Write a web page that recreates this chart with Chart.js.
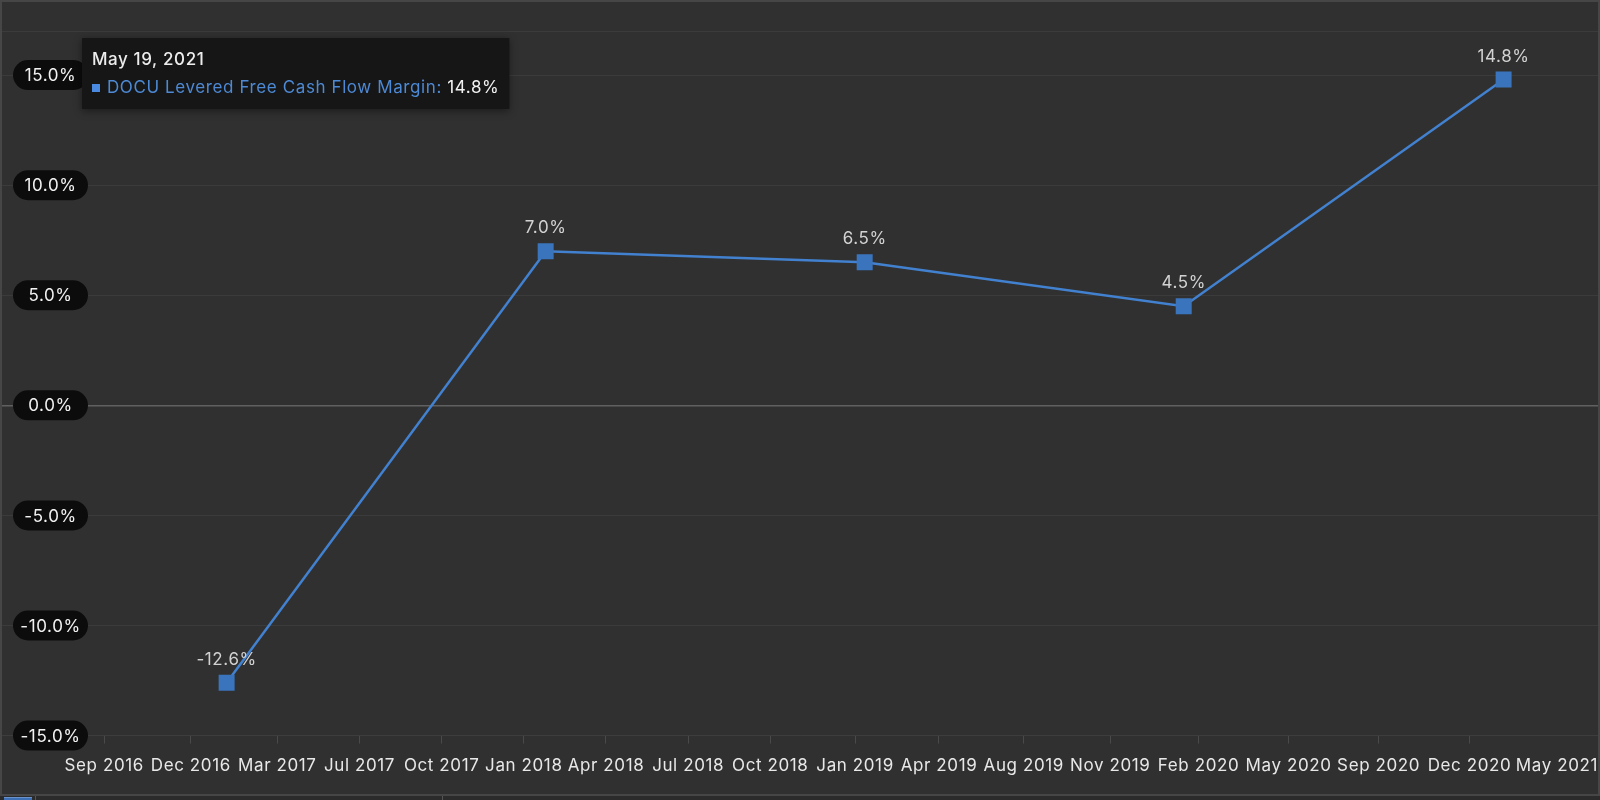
<!DOCTYPE html>
<html>
<head>
<meta charset="utf-8">
<title>DOCU Levered Free Cash Flow Margin</title>
<script src="https://cdn.jsdelivr.net/npm/chart.js@4.4.1/dist/chart.umd.min.js"></script>
<style>
  html, body { margin: 0; padding: 0; background: #303030; }
  #wrap { position: relative; width: 1600px; height: 800px; overflow: hidden; background: #303030; }
  #chart { position: absolute; left: 0; top: 0; }
  .frame { position: absolute; left: 0; top: 0; width: 1600px; height: 796px; box-sizing: border-box;
           border: 2px solid #464646; pointer-events: none; }
  .strip { position: absolute; left: 0; top: 796px; width: 1600px; height: 4px; background: #2b2b2b; }
  .tab { position: absolute; left: 4px; top: 797px; width: 28px; height: 3px; background: #3c6fb3; border-top: 1px solid #6a93cc; }
  .div1 { position: absolute; left: 35px; top: 796px; width: 1px; height: 4px; background: #555; }
  .div2 { position: absolute; left: 442px; top: 796px; width: 1px; height: 4px; background: #555; }
</style>
</head>
<body>
<div id="wrap">
  <canvas id="chart" width="1600" height="800"></canvas>
  <div class="frame"></div>
  <div class="strip"></div>
  <div class="tab"></div>
  <div class="div1"></div>
  <div class="div2"></div>
</div>
<script>
// data
const seriesName = 'DOCU Levered Free Cash Flow Margin';
const pointDates = ['2017-01-31', '2018-01-31', '2019-01-31', '2020-01-31', '2021-01-31'];
const marginValues = [-12.6, 7.0, 6.5, 4.5, 14.8];

const xTickDates = ['2016-05-19', '2016-09-13', '2016-12-21', '2017-03-30', '2017-07-02', '2017-10-04',
                    '2018-01-06', '2018-04-10', '2018-07-13', '2018-10-15', '2019-01-20', '2019-04-26',
                    '2019-08-01', '2019-11-08', '2020-02-17', '2020-05-30', '2020-09-10', '2020-12-23',
                    '2021-05-19'];
const xTickLabels = ['', 'Sep 2016', 'Dec 2016', 'Mar 2017', 'Jul 2017', 'Oct 2017',
                     'Jan 2018', 'Apr 2018', 'Jul 2018', 'Oct 2018', 'Jan 2019', 'Apr 2019',
                     'Aug 2019', 'Nov 2019', 'Feb 2020', 'May 2020', 'Sep 2020', 'Dec 2020',
                     'May 2021'];
const yTickValues = [-15, -10, -5, 0, 5, 10, 15];
const yMin = -15;
const yMax = 17;
const tooltipDate = 'May 19, 2021';

const FONT = 'Inter, "Open Sans", sans-serif';
const SIZE = 17;
const LETTER = '0.6px';
const toMs = s => Date.parse(s + 'T00:00:00Z');
const pct = v => v.toFixed(1) + '%';

// wider text, closer to the original typeface
const spacing = {
    id: 'spacing',
    beforeUpdate(chart) { chart.ctx.letterSpacing = LETTER; },
    beforeDraw(chart) { chart.ctx.letterSpacing = LETTER; }
};

// rounded label pills on the left
const yPills = {
    id: 'yPills',
    afterDatasetsDraw(chart) {
        const ctx = chart.ctx;
        const scale = chart.scales.y;
        ctx.save();
        ctx.font = SIZE + 'px ' + FONT;
        ctx.textAlign = 'center';
        ctx.textBaseline = 'middle';
        yTickValues.forEach(v => {
            const y = scale.getPixelForValue(v);
            ctx.fillStyle = '#0c0c0c';
            ctx.beginPath();
            ctx.roundRect(13, y - 15, 75, 30, 15);
            ctx.fill();
            ctx.fillStyle = '#f2f2f2';
            ctx.fillText(pct(v), 50.5, y + 1);
        });
        ctx.restore();
    }
};

// value labels above each point
const pointLabels = {
    id: 'pointLabels',
    afterDatasetsDraw(chart) {
        const ctx = chart.ctx;
        const meta = chart.getDatasetMeta(0);
        ctx.save();
        ctx.font = SIZE + 'px ' + FONT;
        ctx.fillStyle = '#d2d2d2';
        ctx.textAlign = 'center';
        ctx.textBaseline = 'middle';
        meta.data.forEach((pt, i) => {
            ctx.fillText(pct(marginValues[i]), pt.x, pt.y - 23);
        });
        ctx.restore();
    }
};

// fixed tooltip box in the top-left
const fixedTooltip = {
    id: 'fixedTooltip',
    afterDraw(chart) {
        const ctx = chart.ctx;
        const last = marginValues[marginValues.length - 1];
        const left = 82, top = 38;
        ctx.save();
        ctx.font = SIZE + 'px ' + FONT;
        const label = seriesName + ':';
        const labelW = ctx.measureText(label + ' ').width;
        const valueW = ctx.measureText(pct(last)).width;
        const width = 25 + labelW + valueW + 10;

        ctx.shadowColor = 'rgba(0,0,0,0.45)';
        ctx.shadowBlur = 8;
        ctx.shadowOffsetY = 2;
        ctx.fillStyle = '#161616';
        ctx.fillRect(left, top, width, 71);
        ctx.shadowColor = 'transparent';

        ctx.textBaseline = 'middle';
        ctx.textAlign = 'left';
        ctx.font = '500 ' + SIZE + 'px ' + FONT;
        ctx.fillStyle = '#ededed';
        ctx.fillText(tooltipDate, left + 10, top + 22);

        ctx.fillStyle = '#4a8ae0';
        ctx.fillRect(left + 10, top + 46, 8, 8);
        ctx.font = SIZE + 'px ' + FONT;
        ctx.fillStyle = '#4d89d4';
        ctx.fillText(label, left + 25, top + 50);
        ctx.fillStyle = '#f2f2f2';
        ctx.fillText(pct(last), left + 25 + labelW, top + 50);
        ctx.restore();
    }
};

const ctx = document.getElementById('chart').getContext('2d');
new Chart(ctx, {
    type: 'line',
    data: {
        datasets: [{
            label: seriesName,
            data: pointDates.map((d, i) => ({ x: toMs(d), y: marginValues[i] })),
            borderColor: '#4281cf',
            borderWidth: 2.5,
            tension: 0,
            fill: false,
            pointStyle: 'rect',
            pointRadius: 11.3,
            pointBorderWidth: 0,
            pointBackgroundColor: '#3a74bd',
            pointBorderColor: '#3a74bd'
        }]
    },
    options: {
        responsive: false,
        animation: false,
        events: [],
        layout: { autoPadding: false, padding: { left: 2, right: 2, top: 31, bottom: 12 } },
        plugins: {
            legend: { display: false },
            tooltip: { enabled: false }
        },
        scales: {
            x: {
                type: 'linear',
                min: toMs(xTickDates[0]),
                max: toMs(xTickDates[xTickDates.length - 1]),
                afterBuildTicks: s => { s.ticks = xTickDates.map(d => ({ value: toMs(d) })); },
                afterFit: s => { s.paddingLeft = 0; s.paddingRight = 0; },
                ticks: {
                    autoSkip: false,
                    maxRotation: 0,
                    minRotation: 0,
                    align: 'inner',
                    padding: 12,
                    color: '#e8e8e8',
                    font: { family: FONT, size: SIZE },
                    callback: (v, i) => xTickLabels[i]
                },
                grid: {
                    drawOnChartArea: false,
                    drawTicks: true,
                    tickLength: 8,
                    color: '#4a4a4a',
                    tickColor: c => (c.index === 0 || c.index === xTickDates.length - 1) ? 'rgba(0,0,0,0)' : '#4a4a4a'
                },
                border: { display: true, color: '#3d3d3d' }
            },
            y: {
                type: 'linear',
                min: yMin,
                max: yMax,
                afterBuildTicks: s => { s.ticks = yTickValues.concat([yMax]).map(v => ({ value: v })); },
                afterFit: s => { s.width = 0; },
                ticks: { display: false },
                grid: {
                    drawTicks: false,
                    color: c => (c.tick && c.tick.value === 0) ? '#606060' : '#3b3b3b',
                    lineWidth: c => (c.tick && c.tick.value === 0) ? 1.5 : 1
                },
                border: { display: false }
            }
        }
    },
    plugins: [spacing, yPills, pointLabels, fixedTooltip]
});
</script>
</body>
</html>
